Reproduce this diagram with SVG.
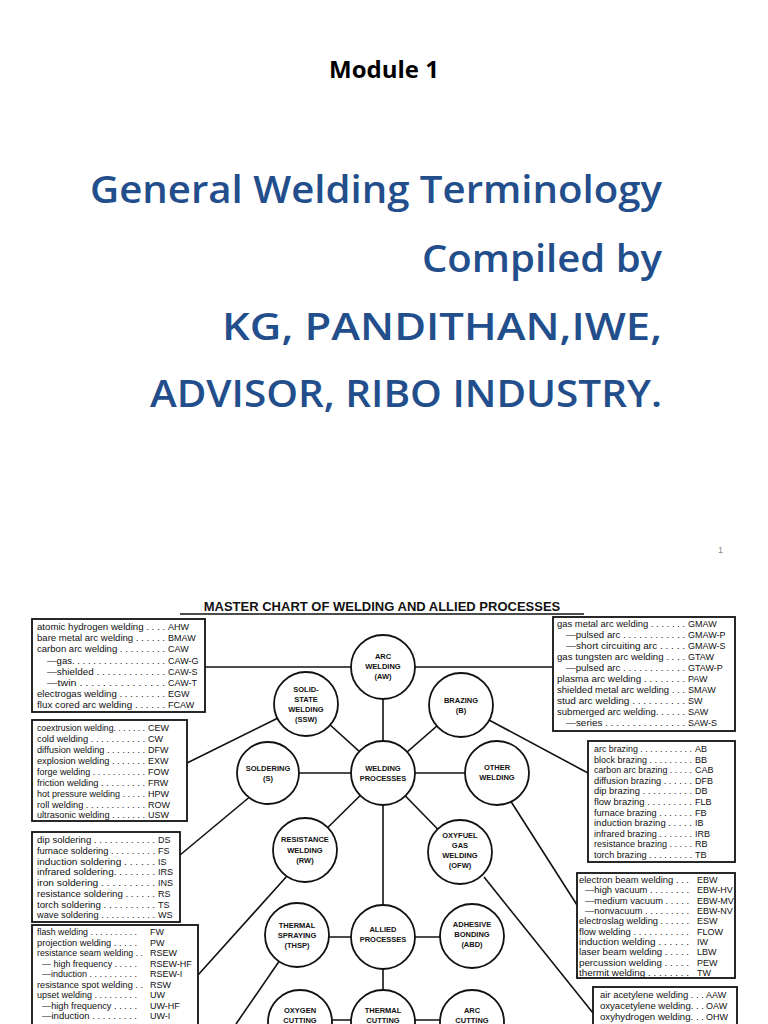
<svg xmlns="http://www.w3.org/2000/svg" width="768" height="1024" viewBox="0 0 768 1024">
<style>
.h{font-family:"Open Sans","Liberation Sans",Arial,sans-serif;font-weight:600;fill:#234E8C;font-size:38px;text-anchor:end}
.b{font-family:"Liberation Sans",Arial,sans-serif;font-size:9px;fill:#111}
.n{font-family:"Liberation Sans",Arial,sans-serif;font-size:7.5px;font-weight:bold;fill:#111;text-anchor:middle}
.box{fill:#fff;stroke:#111;stroke-width:1.8}
.c{fill:#fff;stroke:#111;stroke-width:1.8}
.l{stroke:#111;stroke-width:1.6;fill:none}
</style>
<rect width="768" height="1024" fill="#fff"/>
<text x="384" y="78" font-family="Open Sans,Liberation Sans,sans-serif" font-weight="bold" font-size="24" text-anchor="middle" fill="#000">Module 1</text>
<text class="h" x="662" y="203" textLength="572" lengthAdjust="spacingAndGlyphs">General Welding Terminology</text>
<text class="h" x="662" y="272" textLength="240" lengthAdjust="spacingAndGlyphs">Compiled by</text>
<text class="h" x="662" y="340" textLength="440" lengthAdjust="spacingAndGlyphs">KG, PANDITHAN,IWE,</text>
<text class="h" x="662" y="407" textLength="512" lengthAdjust="spacingAndGlyphs">ADVISOR, RIBO INDUSTRY.</text>
<text x="718" y="553" font-family="Liberation Sans,sans-serif" font-size="9" fill="#888">1</text>
<text x="382" y="611" font-family="Liberation Sans,sans-serif" font-weight="bold" font-size="13" text-anchor="middle" fill="#111">MASTER CHART OF WELDING AND ALLIED PROCESSES</text>
<line x1="180" y1="614" x2="584" y2="614" stroke="#111" stroke-width="1.3"/>
<g id="connectors">
<line class="l" x1="205" y1="667" x2="553" y2="667"/>
<line class="l" x1="187" y1="763" x2="278" y2="718"/>
<line class="l" x1="180" y1="855" x2="252" y2="795"/>
<line class="l" x1="198" y1="975" x2="287" y2="876"/>
<line class="l" x1="489" y1="720" x2="588" y2="773"/>
<line class="l" x1="510" y1="800" x2="577" y2="905"/>
<line class="l" x1="484" y1="877" x2="593" y2="1013"/>
<line class="l" x1="280" y1="960" x2="236" y2="1024"/>
<line class="l" x1="383" y1="667" x2="383" y2="1020"/>
<line class="l" x1="306" y1="703" x2="383" y2="773"/>
<line class="l" x1="461" y1="705" x2="383" y2="773"/>
<line class="l" x1="268" y1="773" x2="497" y2="773"/>
<line class="l" x1="305" y1="850" x2="383" y2="773"/>
<line class="l" x1="460" y1="852" x2="383" y2="773"/>
<line class="l" x1="297" y1="937" x2="472" y2="937"/>
<line class="l" x1="300" y1="1020" x2="472" y2="1020"/>
</g>
<g id="arc"><circle class="c" cx="383" cy="667" r="32"/><text class="n" x="383" y="659">ARC</text><text class="n" x="383" y="669">WELDING</text><text class="n" x="383" y="679">(AW)</text></g>
<g id="ssw"><circle class="c" cx="306" cy="704" r="32"/><text class="n" x="306" y="692">SOLID-</text><text class="n" x="306" y="702">STATE</text><text class="n" x="306" y="712">WELDING</text><text class="n" x="306" y="722">(SSW)</text></g>
<g id="brazing"><circle class="c" cx="461" cy="705" r="32"/><text class="n" x="461" y="703">BRAZING</text><text class="n" x="461" y="713">(B)</text></g>
<g id="soldering"><circle class="c" cx="268" cy="773" r="31"/><text class="n" x="268" y="771">SOLDERING</text><text class="n" x="268" y="781">(S)</text></g>
<g id="wp"><circle class="c" cx="383" cy="773" r="32"/><text class="n" x="383" y="771">WELDING</text><text class="n" x="383" y="781">PROCESSES</text></g>
<g id="other"><circle class="c" cx="497" cy="773" r="32"/><text class="n" x="497" y="770">OTHER</text><text class="n" x="497" y="780">WELDING</text></g>
<g id="rw"><circle class="c" cx="305" cy="850" r="32"/><text class="n" x="305" y="842">RESISTANCE</text><text class="n" x="305" y="853">WELDING</text><text class="n" x="305" y="863">(RW)</text></g>
<g id="ofw"><circle class="c" cx="460" cy="852" r="32"/><text class="n" x="460" y="838">OXYFUEL</text><text class="n" x="460" y="848">GAS</text><text class="n" x="460" y="858">WELDING</text><text class="n" x="460" y="868">(OFW)</text></g>
<g id="thsp"><circle class="c" cx="297" cy="935" r="32"/><text class="n" x="297" y="928">THERMAL</text><text class="n" x="297" y="938">SPRAYING</text><text class="n" x="297" y="948">(THSP)</text></g>
<g id="allied"><circle class="c" cx="383" cy="937" r="32"/><text class="n" x="383" y="932">ALLIED</text><text class="n" x="383" y="942">PROCESSES</text></g>
<g id="abd"><circle class="c" cx="472" cy="936" r="32"/><text class="n" x="472" y="927">ADHESIVE</text><text class="n" x="472" y="937">BONDING</text><text class="n" x="472" y="947">(ABD)</text></g>
<g id="oc"><circle class="c" cx="300" cy="1022" r="32"/><text class="n" x="300" y="1013">OXYGEN</text><text class="n" x="300" y="1023">CUTTING</text></g>
<g id="tc"><circle class="c" cx="383" cy="1022" r="32"/><text class="n" x="383" y="1013">THERMAL</text><text class="n" x="383" y="1023">CUTTING</text></g>
<g id="ac"><circle class="c" cx="472" cy="1022" r="32"/><text class="n" x="472" y="1013">ARC</text><text class="n" x="472" y="1023">CUTTING</text></g>

<g id="box-aw-left" class="b"><rect class="box" x="32" y="619" width="173" height="93"/>
<text x="37" y="630" textLength="128" lengthAdjust="spacingAndGlyphs">atomic hydrogen welding . . . .</text><text x="168" y="630">AHW</text>
<text x="37" y="641" textLength="128" lengthAdjust="spacingAndGlyphs">bare metal arc welding . . . . . .</text><text x="168" y="641">BMAW</text>
<text x="37" y="652" textLength="128" lengthAdjust="spacingAndGlyphs">carbon arc welding . . . . . . . . .</text><text x="168" y="652">CAW</text>
<text x="47" y="664" textLength="118" lengthAdjust="spacingAndGlyphs">—gas. . . . . . . . . . . . . . . . . .</text><text x="168" y="664">CAW-G</text>
<text x="47" y="675" textLength="118" lengthAdjust="spacingAndGlyphs">—shielded . . . . . . . . . . . . .</text><text x="168" y="675">CAW-S</text>
<text x="47" y="686" textLength="118" lengthAdjust="spacingAndGlyphs">—twin  . . . . . . . . . . . . . . .</text><text x="168" y="686">CAW-T</text>
<text x="37" y="697" textLength="128" lengthAdjust="spacingAndGlyphs">electrogas welding . . . . . . . . .</text><text x="168" y="697">EGW</text>
<text x="37" y="708" textLength="128" lengthAdjust="spacingAndGlyphs">flux cored arc welding . . . . . .</text><text x="168" y="708">FCAW</text>
</g>
<g id="box-ssw" class="b"><rect class="box" x="32" y="720" width="155" height="101"/>
<text x="37" y="731" textLength="108" lengthAdjust="spacingAndGlyphs">coextrusion welding. . . . . . .</text><text x="148" y="731">CEW</text>
<text x="37" y="742" textLength="108" lengthAdjust="spacingAndGlyphs">cold welding  . . . . . . . . . . .</text><text x="148" y="742">CW</text>
<text x="37" y="753" textLength="108" lengthAdjust="spacingAndGlyphs">diffusion welding . . . . . . . .</text><text x="148" y="753">DFW</text>
<text x="37" y="764" textLength="108" lengthAdjust="spacingAndGlyphs">explosion welding  . . . . . . .</text><text x="148" y="764">EXW</text>
<text x="37" y="775" textLength="108" lengthAdjust="spacingAndGlyphs">forge welding . . . . . . . . . . .</text><text x="148" y="775">FOW</text>
<text x="37" y="786" textLength="108" lengthAdjust="spacingAndGlyphs">friction welding . . . . . . . . .</text><text x="148" y="786">FRW</text>
<text x="37" y="797" textLength="108" lengthAdjust="spacingAndGlyphs">hot pressure welding  . . . . .</text><text x="148" y="797">HPW</text>
<text x="37" y="808" textLength="108" lengthAdjust="spacingAndGlyphs">roll welding . . . . . . . . . . . .</text><text x="148" y="808">ROW</text>
<text x="37" y="818" textLength="108" lengthAdjust="spacingAndGlyphs">ultrasonic welding  . . . . . . .</text><text x="148" y="818">USW</text>
</g>
<g id="box-s" class="b"><rect class="box" x="32" y="832" width="148" height="90"/>
<text x="37" y="843" textLength="118" lengthAdjust="spacingAndGlyphs">dip soldering  . . . . . . . . . . . .</text><text x="158" y="843">DS</text>
<text x="37" y="854" textLength="118" lengthAdjust="spacingAndGlyphs">furnace soldering . . . . . . . . .</text><text x="158" y="854">FS</text>
<text x="37" y="865" textLength="118" lengthAdjust="spacingAndGlyphs">induction soldering  . . . . . .</text><text x="158" y="865">IS</text>
<text x="37" y="875" textLength="118" lengthAdjust="spacingAndGlyphs">infrared soldering. . . . . . . .</text><text x="158" y="875">IRS</text>
<text x="37" y="886" textLength="118" lengthAdjust="spacingAndGlyphs">iron soldering  . . . . . . . . . .</text><text x="158" y="886">INS</text>
<text x="37" y="897" textLength="118" lengthAdjust="spacingAndGlyphs">resistance soldering  . . . . . .</text><text x="158" y="897">RS</text>
<text x="37" y="908" textLength="118" lengthAdjust="spacingAndGlyphs">torch soldering  . . . . . . . . . .</text><text x="158" y="908">TS</text>
<text x="37" y="918" textLength="118" lengthAdjust="spacingAndGlyphs">wave soldering . . . . . . . . . . .</text><text x="158" y="918">WS</text>
</g>
<g id="box-rw" class="b"><rect class="box" x="32" y="925" width="166" height="105"/>
<text x="37" y="935" textLength="100" lengthAdjust="spacingAndGlyphs">flash welding . . . . . . . . . .</text><text x="150" y="935">FW</text>
<text x="37" y="946" textLength="100" lengthAdjust="spacingAndGlyphs">projection welding  . . . . .</text><text x="150" y="946">PW</text>
<text x="37" y="956" textLength="106" lengthAdjust="spacingAndGlyphs">resistance seam welding . .</text><text x="150" y="956">RSEW</text>
<text x="42" y="967" textLength="95" lengthAdjust="spacingAndGlyphs">— high frequency  . . . . .</text><text x="150" y="967">RSEW-HF</text>
<text x="42" y="977" textLength="95" lengthAdjust="spacingAndGlyphs">—induction . . . . . . . . . .</text><text x="150" y="977">RSEW-I</text>
<text x="37" y="988" textLength="106" lengthAdjust="spacingAndGlyphs">resistance spot welding . .</text><text x="150" y="988">RSW</text>
<text x="37" y="998" textLength="100" lengthAdjust="spacingAndGlyphs">upset welding . . . . . . . . .</text><text x="150" y="998">UW</text>
<text x="42" y="1009" textLength="95" lengthAdjust="spacingAndGlyphs">—high frequency  . . . . .</text><text x="150" y="1009">UW-HF</text>
<text x="42" y="1019" textLength="95" lengthAdjust="spacingAndGlyphs">—induction  . . . . . . . . .</text><text x="150" y="1019">UW-I</text>
</g>
<g id="box-aw-right" class="b"><rect class="box" x="553" y="617" width="182" height="114"/>
<text x="557" y="627" textLength="128" lengthAdjust="spacingAndGlyphs">gas metal arc welding . . . . . . .</text><text x="688" y="627">GMAW</text>
<text x="566" y="638" textLength="119" lengthAdjust="spacingAndGlyphs">—pulsed arc . . . . . . . . . . . .</text><text x="688" y="638">GMAW-P</text>
<text x="566" y="649" textLength="119" lengthAdjust="spacingAndGlyphs">—short circuiting arc  . . . . .</text><text x="688" y="649">GMAW-S</text>
<text x="557" y="660" textLength="128" lengthAdjust="spacingAndGlyphs">gas tungsten arc welding  . . . .</text><text x="688" y="660">GTAW</text>
<text x="566" y="671" textLength="119" lengthAdjust="spacingAndGlyphs">—pulsed arc . . . . . . . . . . . .</text><text x="688" y="671">GTAW-P</text>
<text x="557" y="682" textLength="128" lengthAdjust="spacingAndGlyphs">plasma arc welding  . . . . . . . .</text><text x="688" y="682">PAW</text>
<text x="557" y="693" textLength="128" lengthAdjust="spacingAndGlyphs">shielded metal arc welding . . .</text><text x="688" y="693">SMAW</text>
<text x="557" y="704" textLength="128" lengthAdjust="spacingAndGlyphs">stud arc welding  . . . . . . . . . .</text><text x="688" y="704">SW</text>
<text x="557" y="715" textLength="128" lengthAdjust="spacingAndGlyphs">submerged arc welding. . . . . .</text><text x="688" y="715">SAW</text>
<text x="566" y="726" textLength="119" lengthAdjust="spacingAndGlyphs">—series . . . . . . . . . . . . . . .</text><text x="688" y="726">SAW-S</text>
</g>
<g id="box-b" class="b"><rect class="box" x="588" y="741" width="147" height="121"/>
<text x="594" y="752" textLength="98" lengthAdjust="spacingAndGlyphs">arc brazing . . . . . . . . . . .</text><text x="695" y="752">AB</text>
<text x="594" y="763" textLength="98" lengthAdjust="spacingAndGlyphs">block brazing . . . . . . . . .</text><text x="695" y="763">BB</text>
<text x="594" y="773" textLength="98" lengthAdjust="spacingAndGlyphs">carbon arc brazing . . . . .</text><text x="695" y="773">CAB</text>
<text x="594" y="784" textLength="98" lengthAdjust="spacingAndGlyphs">diffusion brazing . . . . . .</text><text x="695" y="784">DFB</text>
<text x="594" y="794" textLength="98" lengthAdjust="spacingAndGlyphs">dip brazing  . . . . . . . . . .</text><text x="695" y="794">DB</text>
<text x="594" y="805" textLength="98" lengthAdjust="spacingAndGlyphs">flow brazing  . . . . . . . . .</text><text x="695" y="805">FLB</text>
<text x="594" y="816" textLength="98" lengthAdjust="spacingAndGlyphs">furnace brazing . . . . . . .</text><text x="695" y="816">FB</text>
<text x="594" y="826" textLength="98" lengthAdjust="spacingAndGlyphs">induction brazing  . . . . .</text><text x="695" y="826">IB</text>
<text x="594" y="837" textLength="98" lengthAdjust="spacingAndGlyphs">infrared brazing . . . . . . .</text><text x="695" y="837">IRB</text>
<text x="594" y="847" textLength="98" lengthAdjust="spacingAndGlyphs">resistance brazing  . . . . .</text><text x="695" y="847">RB</text>
<text x="594" y="858" textLength="98" lengthAdjust="spacingAndGlyphs">torch brazing . . . . . . . . .</text><text x="695" y="858">TB</text>
</g>
<g id="box-ow" class="b"><rect class="box" x="577" y="873" width="158" height="105"/>
<text x="579" y="883" textLength="110" lengthAdjust="spacingAndGlyphs">electron beam welding . . .</text><text x="697" y="883">EBW</text>
<text x="585" y="893" textLength="104" lengthAdjust="spacingAndGlyphs">—high vacuum  . . . . . . . .</text><text x="697" y="893">EBW-HV</text>
<text x="585" y="904" textLength="104" lengthAdjust="spacingAndGlyphs">—medium vacuum  . . . . .</text><text x="697" y="904">EBW-MV</text>
<text x="585" y="914" textLength="104" lengthAdjust="spacingAndGlyphs">—nonvacuum  . . . . . . . . .</text><text x="697" y="914">EBW-NV</text>
<text x="579" y="924" textLength="110" lengthAdjust="spacingAndGlyphs">electroslag welding . . . . . .</text><text x="697" y="924">ESW</text>
<text x="579" y="935" textLength="110" lengthAdjust="spacingAndGlyphs">flow welding  . . . . . . . . . . .</text><text x="697" y="935">FLOW</text>
<text x="579" y="945" textLength="110" lengthAdjust="spacingAndGlyphs">induction welding  . . . . . .</text><text x="697" y="945">IW</text>
<text x="579" y="955" textLength="110" lengthAdjust="spacingAndGlyphs">laser beam welding  . . . . .</text><text x="697" y="955">LBW</text>
<text x="579" y="966" textLength="110" lengthAdjust="spacingAndGlyphs">percussion welding . . . . .</text><text x="697" y="966">PEW</text>
<text x="579" y="976" textLength="110" lengthAdjust="spacingAndGlyphs">thermit welding  . . . . . . . .</text><text x="697" y="976">TW</text>
</g>
<g id="box-ofw" class="b"><rect class="box" x="593" y="987" width="144" height="50"/>
<text x="600" y="998" textLength="104" lengthAdjust="spacingAndGlyphs">air acetylene welding . . .</text><text x="706" y="998">AAW</text>
<text x="600" y="1009" textLength="104" lengthAdjust="spacingAndGlyphs">oxyacetylene welding. . .</text><text x="706" y="1009">OAW</text>
<text x="600" y="1020" textLength="104" lengthAdjust="spacingAndGlyphs">oxyhydrogen welding. . .</text><text x="706" y="1020">OHW</text>
</g>
</svg>
